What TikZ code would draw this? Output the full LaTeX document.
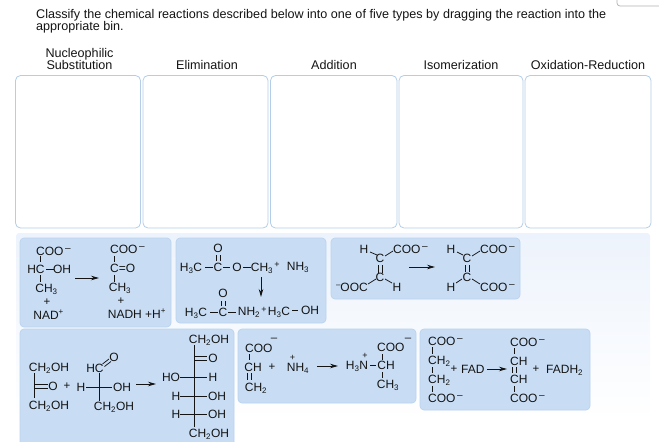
\documentclass[tikz,border=0pt]{standalone}
\usepackage{fontspec}
\setmainfont{Liberation Sans}
\usetikzlibrary{arrows.meta}
\definecolor{ink}{HTML}{141414}
\definecolor{panelfill}{HTML}{C8DDF4}
\definecolor{paneledge}{HTML}{BAD3EF}
\definecolor{binedge}{HTML}{B4CEE8}
\definecolor{backtop}{HTML}{EDF3FC}
\tikzset{
  binbox/.style={draw=binedge,line width=.8pt,fill=white,rounded corners=5pt},
  panelbox/.style={draw=paneledge,line width=.7pt,fill=panelfill,rounded corners=4pt},
  txt/.style={inner sep=0pt,text=ink,font=\fontsize{12.6}{13}\selectfont,text height=9pt,text depth=0pt},
  chem/.style={inner sep=0pt,text=ink,font=\fontsize{12}{13}\selectfont,text height=8.6pt,text depth=0pt},
  signmark/.style={inner sep=0pt,text=ink,font=\fontsize{11.5}{12}\selectfont},
  smallsign/.style={inner sep=0pt,text=ink,font=\fontsize{9}{10}\selectfont},
  bondline/.style={draw=ink,line width=.75pt},
  reactarrow/.style={draw=ink,line width=.8pt,-{Stealth[length=8pt,width=4.5pt]}},
}
\newcommand{\Lb}[5][center]{\node[chem,anchor=#1] (#2) at (#3,#4) {#5};}
\newcommand{\Tn}[4]{\node[signmark] (#1) at (#2,#3) {#4};}
\newcommand{\Ts}[4]{\node[smallsign] (#1) at (#2,#3) {#4};}
\newcommand{\Bd}[4]{\draw[bondline] (#1,#2) -- (#3,#4);}
\newcommand{\Dv}[3]{\draw[bondline] (#1-2,#2) -- (#1-2,#3) (#1+2,#2) -- (#1+2,#3);}
\newcommand{\Arr}[5]{\coordinate (#1s) at (#2,#3); \coordinate (#1e) at (#4,#5); \draw[reactarrow] (#1s) -- (#1e);}
\newcommand{\Sb}[1]{\textsubscript{#1}}
\newcommand{\Mn}{\kern1.5pt\raisebox{4pt}{\fontsize{10}{10}\selectfont–}}
\begin{document}
\begin{tikzpicture}[x=1pt,y=-1pt]
\useasboundingbox (0,0) rectangle (659,442);
\clip (0,0) rectangle (659,442);
% header
\draw[draw=gray!60,fill=white,rounded corners=3pt,line width=.7pt] (617,-8) rectangle (670,6);
\node[txt,anchor=west] (l1) at (36,14) {Classify the chemical reactions described below into one of five types by dragging the reaction into the};
\node[txt,anchor=west] (l2) at (36,26) {appropriate bin.};
\node[txt] (h1a) at (79.5,52.5) {Nucleophilic};
\node[txt] (h1b) at (79.5,64.5) {Substitution};
\node[txt] (h2) at (207,65) {Elimination};
\node[txt] (h3) at (334,65) {Addition};
\node[txt] (h4) at (461,65) {Isomerization};
\node[txt] (h5) at (588,65) {Oxidation-Reduction};
% bins
\draw[binbox] (15.5,75.5) rectangle (140.5,228);
\draw[binbox] (143,75.5) rectangle (268,228);
\draw[binbox] (270.5,75.5) rectangle (397,228);
\draw[binbox] (399,75.5) rectangle (523,228);
\draw[binbox] (525,75.5) rectangle (651,228);
% background
\shade[top color=backtop,bottom color=white,rounded corners=3pt] (16,233) rectangle (650,420);
% panels
\draw[panelbox] (20,238) rectangle (171,327);
\draw[panelbox] (176,238) rectangle (326,323);
\draw[panelbox] (331,238) rectangle (520,299);
\draw[panelbox] (20,329) rectangle (234,452);
\draw[panelbox] (238,329) rectangle (416,403);
\draw[panelbox] (420,329) rectangle (590,410);
% panel 1
\Lb[west]{a1}{36}{251}{COO\Mn}
\Lb{a2}{36}{269}{HC}
\Lb{a3}{62}{269}{OH}
\Bd{46}{269}{54}{269}
\Bd{40}{256}{40}{262}
\Bd{40}{275}{40}{282}
\Lb{a4}{46.5}{288}{CH\Sb{3}}
\Tn{a5}{47}{302}{+}
\Lb{a6}{48.6}{315}{NAD\textsuperscript{+}}
\Arr{ar1}{75}{278}{99}{278}
\Lb[west]{b1}{110}{249}{COO\Mn}
\Bd{114}{256}{114}{262}
\Lb[west]{b2}{110}{268}{C=O}
\Bd{114}{275}{114}{282}
\Lb{b3}{120}{287}{CH\Sb{3}}
\Tn{b4}{121}{301}{+}
\Lb{b5}{137}{314}{NADH +H\textsuperscript{+}}
% panel 2
\Lb{c1}{218}{248}{O}
\Dv{218}{255}{261}
\Lb{c2}{218}{267}{C}
\Lb{c3}{191}{267}{H\Sb{3}C}
\Bd{205}{267}{213}{267}
\Bd{223}{267}{230}{267}
\Lb{c4}{237}{267}{O}
\Bd{243}{267}{251}{267}
\Lb{c5}{262}{267}{CH\Sb{3}}
\Ts{c6}{277}{265}{+}
\Lb{c7}{298}{266}{NH\Sb{3}}
\Arr{ar2}{261}{277}{261}{297}
\Lb{d1}{223}{293}{O}
\Dv{223}{301}{306}
\Lb{d2}{223}{312}{C}
\Lb{d3}{196}{312}{H\Sb{3}C}
\Bd{210}{312}{218}{312}
\Bd{228}{312}{236}{312}
\Lb{d4}{249}{311}{NH\Sb{2}}
\Ts{d5}{264}{310}{+}
\Lb{d6}{279}{311}{H\Sb{3}C}
\Bd{292}{310}{298}{310}
\Lb{d7}{310}{310}{OH}
% panel 3
\Lb{e1}{364}{249}{H}
\Bd{370}{252}{377}{255}
\Lb{e2}{380}{258}{C}
\Bd{385}{256}{393}{251}
\Lb[west]{e3}{393}{249}{COO\Mn}
\Dv{380}{265}{273}
\Lb{e4}{380}{277}{C}
\Bd{368}{284}{376}{279}
\Lb[east]{e5}{368}{287}{\raisebox{4pt}{\fontsize{8}{9}\selectfont–}OOC}
\Bd{385}{279}{392}{283}
\Lb{e6}{397}{287}{H}
\Arr{ar3}{409}{267}{435}{267}
\Lb{f1}{451}{249}{H}
\Bd{457}{252}{463}{255}
\Lb{f2}{467}{258}{C}
\Bd{472}{256}{480}{251}
\Lb[west]{f3}{480}{249}{COO\Mn}
\Dv{467}{265}{272}
\Lb{f4}{467}{277}{C}
\Bd{456}{283}{462}{279}
\Lb{f5}{451}{287}{H}
\Bd{472}{279}{480}{284}
\Lb[west]{f6}{480}{287}{COO\Mn}
% panel 4
\Lb{g1}{49}{367}{CH\Sb{2}OH}
\Bd{34}{373}{34}{398}
\Bd{34}{384}{48}{384}
\Bd{34}{388}{48}{388}
\Lb{g2}{53}{386}{O}
\Lb{g3}{49}{405}{CH\Sb{2}OH}
\Tn{g4}{67}{386}{+}
\Lb{g5}{81}{387}{H}
\Bd{86}{387}{112}{387}
\Bd{99.5}{373}{99.5}{401}
\Lb{g6}{122}{387}{OH}
\Lb{g7}{95}{368}{HC}
\Bd{102.5}{364}{109}{359}
\Bd{104.5}{366.5}{111}{361.5}
\Lb{g8}{114}{357}{O}
\Lb{g9}{114}{406}{CH\Sb{2}OH}
\Arr{ar4}{136}{384}{156}{384}
\Lb{k1}{209}{339}{CH\Sb{2}OH}
\Bd{194}{345}{194}{427}
\Bd{194}{356}{207}{356}
\Bd{194}{360}{207}{360}
\Lb{k2}{213}{358}{O}
\Lb{k3}{171}{377}{HO}
\Bd{180}{377}{207}{377}
\Lb{k4}{213}{377}{H}
\Lb{k5}{176}{396}{H}
\Bd{180}{396}{207}{396}
\Lb{k6}{217}{396}{OH}
\Lb{k7}{176}{414}{H}
\Bd{180}{414}{207}{414}
\Lb{k8}{217}{414}{OH}
\Lb{k9}{209}{433}{CH\Sb{2}OH}
% panel 5
\Lb[west]{m1}{245}{348}{COO}
\Tn{m2}{274}{340}{–}
\Bd{249}{354}{249}{360}
\Lb{m3}{253}{367}{CH}
\Dv{249}{373}{380}
\Lb{m4}{256}{387}{CH\Sb{2}}
\Tn{m5}{272}{367}{+}
\Lb{m6}{298}{367}{NH\Sb{4}}
\Ts{m7}{292.5}{358}{+}
\Arr{ar5}{317}{366}{338}{366}
\Lb{n1}{357}{365}{H\Sb{3}N}
\Ts{n2}{365}{356}{+}
\Bd{370}{365}{376}{365}
\Lb{n3}{386}{365}{CH}
\Lb[west]{n4}{377}{347}{COO}
\Tn{n5}{408}{340}{–}
\Bd{382}{354}{382}{360}
\Bd{382}{372}{382}{378}
\Lb{n6}{388}{384}{CH\Sb{3}}
% panel 6
\Lb[west]{p1}{428}{341}{COO\Mn}
\Bd{432}{347}{432}{354}
\Lb[west]{p2}{428}{360}{CH\Sb{2}}
\Bd{432}{367}{432}{373}
\Lb[west]{p3}{428}{379}{CH\Sb{2}}
\Bd{432}{386}{432}{392}
\Lb[west]{p4}{428}{398}{COO\Mn}
\Tn{p5}{454}{369}{+}
\Lb[west]{p6}{461}{369}{FAD}
\Arr{ar6}{487}{369}{507}{369}
\Lb[west]{q1}{510}{342}{COO\Mn}
\Bd{514}{348}{514}{354}
\Lb[west]{q2}{510}{361}{CH}
\Dv{514}{367}{373}
\Lb[west]{q3}{510}{379}{CH}
\Bd{514}{386}{514}{392}
\Lb[west]{q4}{510}{398}{COO\Mn}
\Tn{q5}{536}{369}{+}
\Lb[west]{q6}{546}{369}{FADH\Sb{2}}
\end{tikzpicture}
\end{document}
